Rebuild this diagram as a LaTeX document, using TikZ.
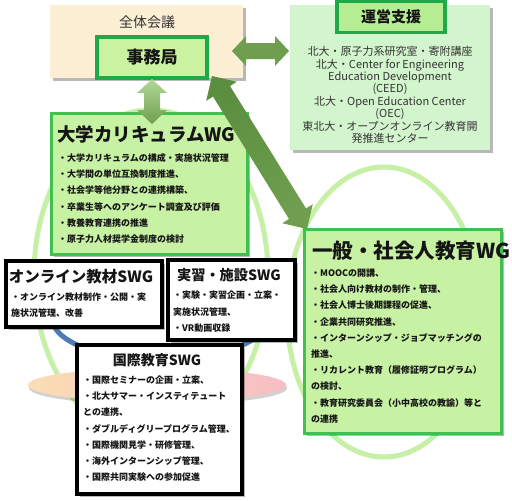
\documentclass[tikz,border=0pt]{standalone}
\usepackage{fontspec}
\setmainfont{Noto Sans CJK JP}
\usetikzlibrary{shadows,calc}

\definecolor{beige}{HTML}{FCEFD4}
\definecolor{jimufill}{HTML}{C9F3A0}
\definecolor{jimuborder}{HTML}{1FAA4A}
\definecolor{uneibg}{HTML}{D3F5CD}
\definecolor{uneititle}{HTML}{B6EC92}
\definecolor{wgfill}{HTML}{C8F2A3}
\definecolor{wgborder}{HTML}{40C04E}
\definecolor{ellgreen}{HTML}{C6F0A6}
\definecolor{blueone}{HTML}{4E7AB5}
\definecolor{peach}{HTML}{FADDB4}
\definecolor{pinkone}{HTML}{F7BEC4}
\definecolor{grayt}{HTML}{333333}
\definecolor{textblack}{HTML}{151515}
\definecolor{arrdark}{HTML}{6E9E4E}
\definecolor{arrdarker}{HTML}{5C8E40}
\definecolor{arrlight}{HTML}{B3D99A}

\newcommand{\dblarr}[8]{%
  \pgfmathanglebetweenpoints{\pgfpointanchor{#1}{center}}{\pgfpointanchor{#2}{center}}%
  \let\arrAng\pgfmathresult
  \pgfpointdiff{\pgfpointanchor{#1}{center}}{\pgfpointanchor{#2}{center}}%
  \pgfgetlastxy{\arrDx}{\arrDy}%
  \pgfmathsetmacro{\arrLen}{veclen(\arrDx,\arrDy)}%
  \pgfmathsetmacro{\arrB}{\arrLen-#5}%
  \pgfmathsetmacro{\arrSh}{90+\arrAng}%
  \shade[left color=#6, middle color=#7, right color=#8, shading angle=\arrSh,
         shift={(#1)}, rotate=\arrAng]
    (0pt,0pt) -- (#5pt,#4pt) -- (#5pt,#3pt) -- (\arrB pt,#3pt) -- (\arrB pt,#4pt)
    -- (\arrLen pt,0pt) -- (\arrB pt,-#4pt) -- (\arrB pt,-#3pt) -- (#5pt,-#3pt)
    -- (#5pt,-#4pt) -- cycle;
}

\begin{document}
\begin{tikzpicture}[x=1pt,y=-1pt,
  shadowed/.style={drop shadow={shadow xshift=2.5pt, shadow yshift=-2.5pt, fill=black, opacity=0.28}},
  greenbox/.style={draw=wgborder, line width=3, fill=wgfill, shadowed, inner sep=0, anchor=north west},
  blackbox/.style={draw=black, line width=4, fill=white, shadowed, inner sep=0, anchor=north west},
  ttl/.style={font=\bfseries\fontsize{#1}{#1}\selectfont, inner sep=0, text=textblack},
  itm/.style={font=\bfseries\fontsize{9}{16.2}\selectfont, align=left, inner sep=0, anchor=north west, text=textblack},
  ring/.style={draw=ellgreen, line width=5},
]
\fill[white] (0,0) rectangle (512,501);
\useasboundingbox (0,0) rectangle (512,501);

% background shapes
\draw[ring] (151,275) ellipse [x radius=117, y radius=165];
\draw[ring] (384,312) ellipse [x radius=97, y radius=145];
\draw[blueone, line width=5] (268,318) arc [start angle=0, end angle=180, x radius=108, y radius=42];
\shade[left color=peach, right color=pinkone, drop shadow={shadow xshift=1pt, shadow yshift=-3pt, fill=black, opacity=0.18}]
  (157,385) ellipse [x radius=129, y radius=17];

% top boxes
\node[fill=beige, shadowed, minimum width=193, minimum height=73, anchor=north west, inner sep=0] (zentai) at (50,5) {};
\node[font=\fontsize{14}{14}\selectfont, text=grayt, inner sep=0] (zentaiT) at (147,22) {全体会議};
\node[draw=jimuborder, line width=3.5, fill=jimufill, minimum width=110, minimum height=41,
      font=\bfseries\fontsize{17}{17}\selectfont, text=textblack, inner sep=0] (jimu) at (152,57.5) {事務局};

\node[fill=uneibg, shadowed, minimum width=200, minimum height=145, anchor=north west, inner sep=0] (unei) at (290,5) {};
\node[draw=jimuborder, line width=3.5, fill=uneititle, minimum width=108, minimum height=31,
      font=\bfseries\fontsize{15}{15}\selectfont, text=textblack, inner sep=0] (uneiT) at (391,17) {運営支援};
\node[align=center, font=\fontsize{11}{12.4}\selectfont, text=grayt, inner sep=0] (uneiText) at (390,95)
  {北大・原子力系研究室・寄附講座\\北大・Center for Engineering\\Education Development\\(CEED)\\北大・Open Education Center\\(OEC)\\東北大・オープンオンライン教育開\\発推進センター};

% WG boxes
\node[greenbox, minimum width=196, minimum height=141] (wgA) at (50,112) {};
\node[ttl=18.5, anchor=west] (wgAT) at (57,134) {大学カリキュラムWG};
\node[itm] (wgAI) at (58,153.5) {・大学カリキュラムの構成・実施状況管理\\・大学間の単位互換制度推進、\\・社会学等他分野との連携構築、\\・卒業生等へのアンケート調査及び評価\\・教養教育連携の推進\\・原子力人材奨学金制度の検討};

\node[greenbox, minimum width=197, minimum height=204] (wgB) at (303,228) {};
\node[ttl=20.5, anchor=west] (wgBT) at (312,251) {一般・社会人教育WG};
\node[itm] (wgBI) at (311,268.5) {・MOOCの開講、\\・社会人向け教材の制作・管理、\\・社会人博士後期課程の促進、\\・企業共同研究推進、\\・インターンシップ・ジョブマッチングの\\推進、\\・リカレント教育（履修証明プログラム）\\の検討、\\・教育研究委員会（小中高校の教諭）等と\\の連携};

% SWG boxes
\node[blackbox, minimum width=156, minimum height=66] (swgA) at (4,259) {};
\node[ttl=15.5] (swgAT) at (81,277) {オンライン教材SWG};
\node[itm] (swgAI) at (11,292.5) {・オンライン教材制作・公開・実\\施状況管理、改善};

\node[blackbox, minimum width=127, minimum height=80] (swgB) at (166,258) {};
\node[ttl=14.2] (swgBT) at (229,275) {実習・施設SWG};
\node[itm] (swgBI) at (173,291) {・実験・実習企画・立案・\\実施状況管理、\\・VR動画収録};

\node[blackbox, minimum width=165, minimum height=149] (swgC) at (75,343) {};
\node[ttl=14] (swgCT) at (157,360) {国際教育SWG};
\node[itm] (swgCI) at (83,375.5) {・国際セミナーの企画・立案、\\・北大サマー・インスティテュート\\との連携、\\・ダブルディグリープログラム管理、\\・国際機関見学・研修管理、\\・海外インターンシップ管理、\\・国際共同実験への参加促進};

% arrows
\coordinate (hA) at (232,51);
\coordinate (hB) at (289,51);
\coordinate (vA) at (152,79);
\coordinate (vB) at (152,124);
\coordinate (dA) at (212,76);
\coordinate (dB) at (307,229);
\dblarr{hA}{hB}{8}{15}{14}{arrdark}{arrlight}{arrdark}
\dblarr{vA}{vB}{8}{15}{14}{arrlight}{arrlight!80!arrdark}{arrdark}
\dblarr{dA}{dB}{10}{18}{18}{arrdarker}{arrlight}{arrdark}
\end{tikzpicture}
\end{document}
